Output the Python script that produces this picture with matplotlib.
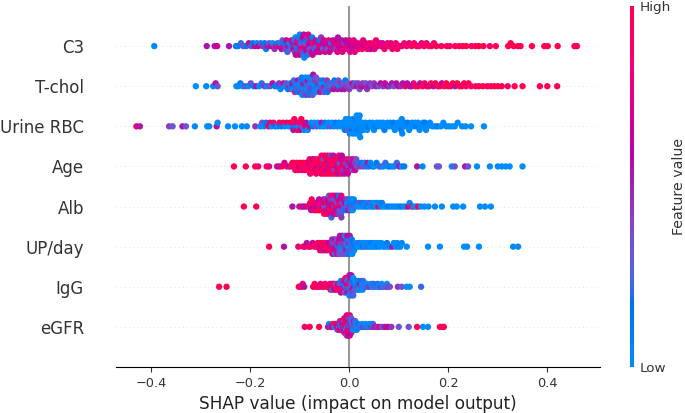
"""SHAP summary (beeswarm) plot of feature impact."""
import matplotlib

matplotlib.use("Agg")
import matplotlib.pyplot as plt
import numpy as np
from matplotlib import cm
from matplotlib.colors import LinearSegmentedColormap

features = ["C3", "T-chol", "Urine RBC", "Age", "Alb", "UP/day", "IgG", "eGFR"]

# SHAP values in thousandths, feature values as codes 0 (low) .. 9 (high)
c3_shap = [
    -394, -288, -272, -267, -243, -229, -225, -219, -214, -208, -203,
    -198, -195, -191, -187, -184, -179, -175, -171,
    -168, -165, -162, -158, -155, -151, -148, -145, -142,
    -139, -137, -135, -133, -131, -129, -127, -125, -123, -121, -119, -117, -115, -114, -112, -111, -110,
    -109, -108, -107, -106, -105, -104, -103, -102, -101, -100, -99, -98, -97, -96,
    -95, -94, -93, -92, -91, -90, -89, -88, -87, -86, -85, -84, -83, -82,
    -81, -80, -78, -77, -75, -74, -72, -71, -69, -68, -66, -65, -63, -62, -60, -59, -57, -56, -54, -53, -51,
    -49, -47, -45, -44, -42, -40, -38, -37, -35, -33, -31, -30, -28, -26, -24, -23, -21,
    -19, -17, -15, -14, -12, -10, -8, -7, -5, -3, -1, 0, 2, 4, 6, 7, 9,
    11, 13, 16, 18, 21, 23, 26, 28, 31, 33, 36, 38, 41, 43, 46, 48,
    51, 54, 57, 61, 64, 67, 71, 74, 77, 81, 84, 87, 91, 94, 97,
    101, 106, 111, 116, 121, 126, 131, 136, 141, 146, 151, 156, 161, 166, 171, 176,
    186, 197, 203, 214, 222, 229, 236, 247, 255, 262, 271, 284, 296,
    321, 326, 332, 341, 346, 369, 394, 401, 421, 455, 460,
]
c3_value = [
    0, 5, 5, 6, 5, 1, 1, 2, 3, 1, 5,
    3, 1, 5, 0, 6, 2, 4, 1,
    1, 5, 3, 6, 0, 4, 7, 2, 5,
    0, 5, 3, 7, 1, 4, 6, 2, 5, 0, 3, 7, 1, 5, 6, 2, 4,
    0, 6, 3, 5, 1, 7, 4, 2, 6, 0, 5, 3, 7, 1,
    4, 6, 2, 5, 0, 7, 3, 5, 1, 6, 4, 2, 7, 5,
    6, 3, 7, 5, 1, 6, 4, 7, 2, 5, 6, 3, 7, 5, 1, 6, 4, 7, 5, 3, 6,
    7, 5, 6, 3, 7, 5, 6, 2, 7, 6, 5, 7, 4, 6, 7, 5, 6,
    7, 6, 5, 7, 6, 4, 7, 6, 7, 5, 7, 6, 7, 6, 7, 5, 7,
    7, 6, 7, 7, 6, 7, 8, 7, 6, 7, 7, 8, 7, 6, 7, 8,
    7, 8, 7, 7, 8, 6, 7, 8, 7, 8, 7, 8, 7, 8, 8,
    8, 7, 8, 8, 7, 8, 8, 9, 8, 7, 8, 8, 9, 8, 8, 9,
    8, 9, 8, 9, 8, 9, 9, 8, 9, 9, 9, 8, 9,
    9, 9, 9, 9, 9, 9, 9, 9, 9, 9, 9,
]

tchol_shap = [
    -310, -289, -275, -270, -266,
    -228, -224, -220, -215, -210,
    -204, -199, -193, -188, -182, -177, -171, -166, -160, -155, -150,
    -145, -142, -139, -136, -133, -130, -127, -124, -121,
    -119, -118, -116, -115, -113, -112, -110, -109, -107, -106, -104, -103, -101, -100,
    -99, -98, -97, -96, -95, -94, -93, -92, -91, -90, -89, -88, -87, -86, -85, -84, -83,
    -82, -81, -80, -79, -78, -77, -76, -75, -74, -73, -72, -71, -70, -69, -68, -67,
    -65, -63, -62, -60, -59, -57, -56, -54, -53, -51, -50, -48, -47, -45, -44, -42,
    -40, -38, -36, -34, -32, -30, -28, -26, -24, -22, -20, -18, -16, -14, -12, -10, -8, -6, -3,
    0, 3, 6, 9, 12, 15, 18, 21, 24, 27, 30, 33, 36, 39, 42, 46,
    50, 54, 59, 63, 68, 72, 77, 81, 86, 90, 95, 99, 104, 108, 113, 117, 122, 126, 130,
    134, 139, 143, 148, 152, 157, 161, 165, 170, 174, 179, 183, 187,
    192, 196, 200, 205, 209, 214, 218, 223, 227, 232, 236, 241, 246,
    255, 262, 270, 279, 286, 293, 300, 308, 320, 334, 350,
    385, 400, 420,
]
tchol_value = [
    0, 0, 0, 5, 3,
    0, 0, 1, 0, 3,
    0, 3, 1, 5, 0, 2, 4, 0, 3, 5, 1,
    1, 4, 0, 2, 5, 0, 3, 1, 4,
    0, 3, 1, 5, 0, 2, 4, 1, 0, 3, 5, 1, 2, 0,
    0, 2, 4, 1, 0, 3, 5, 0, 1, 2, 0, 4, 1, 3, 0, 5, 2,
    0, 1, 3, 0, 4, 2, 1, 0, 3, 5, 1, 0, 2, 4, 0, 3,
    1, 4, 0, 3, 5, 2, 0, 4, 1, 3, 5, 0, 2, 4, 1, 3,
    2, 4, 0, 3, 5, 1, 4, 2, 5, 3, 0, 4, 5, 2, 3, 5, 1, 4, 3,
    4, 3, 5, 4, 2, 5, 4, 3, 5, 4, 5, 3, 4, 5, 4, 3,
    4, 5, 3, 5, 4, 6, 5, 4, 5, 3, 5, 6, 4, 5, 7, 5, 6, 5, 7,
    8, 9, 5, 8, 9, 6, 9, 8, 5, 9, 8, 9, 6,
    8, 9, 9, 8, 9, 5, 9, 8, 9, 9, 8, 9, 8,
    9, 8, 9, 9, 8, 9, 9, 9, 8, 9, 9,
    9, 9, 9,
]

urbc_shap = [
    -430, -423, -364, -357, -337, -330, -312, -287, -283, -268, -266, -245, -231, -217, -207, -190,
    -180, -176, -172, -168,
    -163, -160, -157, -153, -149,
    -144, -141, -137, -134, -130, -126, -122,
    -119, -117, -115, -113, -111, -109, -107, -105, -103, -101, -99, -97, -95, -93, -91, -89, -87,
    -84, -80, -77, -73, -70, -66, -63, -59, -56, -52, -49, -45, -42, -38, -35, -31, -28, -24, -21, -17, -14,
    -12, -10, -9, -7, -5, -4, -2, -1,
    1, 2, 4, 5, 7, 8, 9,
    11, 12, 13, 14, 15, 16, 17, 18, 19, 20, 21, 22,
    24, 26, 28, 30,
    33, 36, 39, 41, 44, 47, 50, 53, 56, 59, 62, 65, 68, 71, 74, 77, 80, 83, 86, 89, 92, 95, 98,
    101, 103, 105, 106, 107, 109, 112, 115, 118, 121, 124, 127, 130, 133, 136, 139, 142, 145, 149, 151, 153, 155, 158,
    163, 168, 174, 179, 185, 190, 196, 201, 207, 213,
    219, 228, 235, 246, 272,
]
urbc_value = [
    7, 5, 4, 3, 5, 3, 0, 0, 0, 5, 0, 0, 0, 0, 0, 4,
    0, 3, 0, 1,
    9, 7, 0, 8, 1,
    0, 8, 1, 9, 0, 7, 0,
    9, 0, 8, 5, 9, 1, 7, 9, 0, 8, 6, 9, 3, 8, 0, 7, 5,
    0, 5, 0, 1, 0, 3, 0, 0, 5, 0, 1, 0, 0, 3, 0, 0, 1, 0, 0, 0, 0,
    0, 0, 1, 0, 0, 0, 3, 0,
    0, 0, 0, 1, 0, 0, 0,
    0, 0, 1, 0, 0, 0, 0, 1, 0, 0, 0, 0,
    0, 0, 0, 0,
    0, 0, 1, 0, 0, 0, 0, 1, 0, 0, 0, 0, 0, 1, 0, 0, 0, 0, 0, 1, 0, 0, 0,
    0, 0, 1, 0, 0, 0, 0, 0, 1, 0, 0, 0, 0, 0, 1, 0, 0, 0, 0, 0, 1, 0, 0,
    0, 0, 0, 1, 0, 0, 0, 0, 0, 0,
    0, 0, 0, 0, 0,
]

age_shap = [
    -233, -209, -190, -184, -167, -162,
    -146, -141, -136, -131, -126, -121, -117,
    -115, -113, -111, -109, -107, -105, -103, -101, -99, -97, -95, -93, -91, -89, -87, -85, -83, -82, -81,
    -80, -79, -78, -76, -75, -74, -72, -71, -70, -68, -67, -66, -64, -63, -62, -61, -60,
    -59, -58, -57, -56, -55, -54, -53, -52, -51, -50, -49, -48,
    -47, -46, -45, -44, -43, -42, -41, -40, -39, -38, -37, -36,
    -35, -34, -33, -32, -31, -30, -29, -28, -27, -26, -25, -24,
    -23, -22, -21, -20, -19, -18, -17, -16, -15, -14, -13, -12,
    -11, -10, -8, -7, -5, -4, -3, -1, 0, 1, 3, 4, 5, 7, 8, 9, 11, 12, 14,
    16, 19, 22, 25, 28, 31, 34, 37, 40, 43, 47,
    50, 55, 60, 64, 69, 73, 78, 82, 87, 91, 96, 101, 106, 111,
    137, 148, 177, 181, 207, 213, 234, 240, 258, 284, 300, 308, 316, 324, 350,
]
age_value = [
    9, 9, 9, 8, 9, 7,
    7, 5, 8, 6, 9, 5, 8,
    9, 8, 9, 7, 9, 8, 9, 6, 9, 8, 9, 9, 7, 8, 9, 8, 9, 6, 9,
    9, 8, 7, 9, 9, 5, 8, 9, 7, 9, 8, 6, 9, 9, 8, 7, 9,
    9, 8, 7, 9, 5, 9, 8, 3, 9, 7, 8, 9,
    6, 9, 8, 9, 7, 5, 9, 8, 9, 4, 8, 9,
    7, 9, 8, 5, 9, 7, 3, 8, 9, 6, 8, 7,
    9, 5, 8, 7, 2, 9, 6, 8, 5, 7, 9, 4,
    6, 5, 7, 4, 5, 8, 6, 3, 5, 7, 4, 6, 5, 3, 7, 5, 4, 6, 3,
    3, 2, 4, 1, 3, 0, 2, 5, 1, 0, 2,
    0, 1, 0, 3, 0, 2, 0, 1, 0, 0, 2, 5, 0, 1,
    5, 0, 3, 3, 0, 3, 5, 3, 0, 0, 0, 0, 0, 0, 0,
]

alb_shap = [
    -213, -188, -115,
    -101, -96, -92, -87, -83,
    -80, -79, -77, -76, -74, -73, -71, -70, -68, -67, -65, -64, -62, -61, -59, -58, -56, -55, -54,
    -53, -52, -51, -50, -49, -48, -47, -46, -45, -45, -44, -43,
    -42, -41, -40, -40, -39, -38, -37, -36, -36, -35, -34, -33,
    -32, -32, -31, -30, -29, -28, -28, -27, -26, -25, -24, -24,
    -23, -22, -21, -20, -20, -19, -18, -17, -16, -16, -15, -14,
    -13, -12, -10, -9, -8, -6, -5, -4, -2, -1, 0, 1, 3, 4, 5, 6, 7,
    9, 11, 14, 16, 19, 21, 24, 26, 29, 31, 34, 36, 39, 41, 44, 46, 49, 51, 54, 56, 59, 61, 64, 66,
    70, 75, 80, 85, 90, 95, 100, 105, 110, 115, 119, 122, 126, 130, 135, 139, 145, 152, 160,
    173, 187, 210, 217, 230, 264, 274, 286,
]
alb_value = [
    9, 9, 5,
    5, 7, 5, 6, 7,
    7, 9, 5, 8, 6, 9, 7, 5, 8, 9, 6, 7, 9, 5, 8, 7, 9, 6, 8,
    7, 5, 9, 3, 6, 8, 4, 7, 2, 9, 5, 6,
    8, 3, 7, 5, 9, 4, 6, 8, 2, 7, 5, 9,
    3, 6, 7, 4, 8, 5, 2, 7, 6, 9, 3, 5,
    7, 4, 1, 6, 8, 3, 5, 2, 7, 4, 6, 3,
    3, 5, 2, 6, 1, 4, 3, 0, 5, 2, 4, 1, 3, 0, 2, 1, 0,
    0, 2, 1, 0, 3, 0, 1, 0, 2, 0, 0, 1, 0, 3, 0, 0, 1, 0, 0, 0, 9, 0, 0, 1,
    0, 0, 1, 0, 0, 0, 0, 1, 0, 0, 5, 0, 9, 0, 0, 9, 0, 0, 0,
    0, 0, 0, 0, 0, 0, 0, 0,
]

upday_shap = [
    -162, -132, -103,
    -93, -89, -86, -82, -78, -74, -70, -66,
    -64, -62, -61, -59, -57, -56, -54, -52, -51, -49, -47, -46, -44, -42, -41, -39,
    -38, -37, -36, -35, -34, -33, -32, -31, -30, -29, -28, -27, -26,
    -25, -24, -23, -22, -21, -20, -20, -19, -18, -17, -16, -15, -15,
    -14, -13, -12, -11, -10, -10, -9, -8, -7, -6, -5, -5, -4,
    -3, -2, -1, 0, 0, 1, 2, 3, 4, 5, 6, 7, 8,
    10, 12, 15, 17, 20, 22, 25, 27, 30, 32, 35, 37, 40, 42, 45, 47, 50, 52, 55, 57, 60, 62,
    65, 69, 72, 76, 79, 83, 87, 90, 94, 97, 100, 103, 106,
    116, 159, 183, 232, 238, 262, 331, 341,
]
upday_value = [
    9, 5, 7,
    9, 7, 5, 9, 8, 6, 9, 7,
    9, 7, 8, 9, 6, 9, 7, 9, 8, 5, 9, 7, 8, 9, 6, 7,
    7, 5, 8, 4, 6, 5, 3, 7, 5, 2, 6, 4, 5,
    3, 7, 1, 5, 4, 6, 3, 5, 2, 4, 0, 5, 3,
    6, 1, 4, 2, 5, 3, 0, 4, 2, 5, 1, 3, 6,
    0, 4, 2, 3, 1, 5, 0, 2, 3, 1, 0, 2, 1,
    0, 1, 0, 0, 2, 0, 0, 1, 0, 0, 0, 2, 0, 0, 1, 0, 0, 0, 0, 1, 0, 0,
    0, 0, 0, 1, 0, 0, 5, 0, 0, 0, 1, 0, 0,
    0, 0, 0, 0, 0, 0, 0, 0,
]

igg_shap = [
    -263, -248,
    -102, -100, -97, -94, -91,
    -73, -70, -67, -64, -61, -58, -55, -52, -49, -46, -43, -40,
    -39, -38, -36, -35, -34, -32, -31, -30, -28, -27, -26, -24, -23, -21,
    -20, -19, -18, -17, -17, -16, -15, -14, -13, -12, -12, -11, -10, -9, -8, -7, -6, -5,
    -4, -4, -3, -3, -2, -2, -1, -1, 0, 0, 1, 1, 2, 2, 3, 3, 4, 4, 5, 5, 6, 6,
    7, 8, 8, 9, 10, 11, 12,
    13, 14, 15, 16, 17, 18, 19, 20, 21, 22, 23, 24, 25, 26, 27, 28,
    30, 33, 36, 38, 41, 44, 47, 49, 52, 55, 57, 60, 63, 65, 68, 71, 74, 76, 79, 82,
    98, 106, 116, 122, 145,
]
igg_value = [
    9, 9,
    9, 9, 8, 7, 5,
    9, 8, 9, 7, 9, 8, 6, 9, 8, 7, 9, 8,
    7, 9, 5, 8, 0, 7, 9, 6, 8, 3, 7, 9, 5, 8,
    6, 3, 8, 0, 5, 7, 2, 9, 4, 6, 1, 7, 5, 3, 8, 0, 6, 4,
    0, 5, 3, 7, 1, 4, 6, 2, 0, 5, 3, 8, 1, 4, 0, 6, 2, 5, 0, 3, 7, 1,
    4, 0, 2, 5, 1, 3, 0,
    1, 0, 3, 0, 4, 1, 0, 2, 0, 5, 0, 1, 3, 0, 0, 2,
    0, 3, 0, 1, 4, 0, 0, 2, 3, 0, 1, 0, 4, 0, 2, 0, 3, 0, 4, 3,
    4, 3, 0, 0, 2,
]

egfr_shap = [
    -90, -80, -61,
    -43, -41, -39, -37, -35, -33, -31, -29, -27, -25,
    -24, -24, -23, -22, -21, -21, -20, -19, -18, -18, -17, -16, -15, -14, -13,
    -12, -12, -11, -11, -10, -10, -9, -9, -9, -8, -8, -7, -7, -7, -6,
    -6, -5, -5, -5, -4, -4, -3, -3, -3, -2, -2, -1, -1, -1, 0,
    0, 1, 1, 1, 2, 2, 3, 3, 4, 4, 5, 5, 6, 6, 7,
    8, 8, 9, 10, 10, 11, 12, 13, 14, 15,
    16, 18, 20, 22, 24, 26, 28, 30, 32, 34, 36, 38, 40, 42, 44, 45, 47, 48,
    52, 56, 61, 66, 72, 78, 85,
    100, 120, 137, 149, 159, 183, 188, 191,
]
egfr_value = [
    8, 9, 9,
    5, 0, 7, 3, 6, 9, 4, 0, 5, 7,
    8, 3, 6, 9, 0, 5, 7, 4, 9, 2, 6, 8, 0, 5, 7,
    7, 5, 9, 3, 6, 8, 0, 7, 5, 9, 4, 6, 8, 2, 7,
    5, 9, 3, 6, 0, 8, 7, 5, 9, 4, 6, 8, 1, 7, 5,
    9, 3, 6, 8, 0, 7, 5, 4, 6, 3, 5, 2, 4, 0, 3,
    3, 0, 5, 1, 4, 0, 2, 3, 0, 1,
    0, 1, 3, 0, 2, 0, 4, 1, 0, 3, 0, 2, 0, 3, 1, 0, 4, 2,
    5, 4, 7, 3, 5, 6, 4,
    3, 3, 9, 0, 0, 9, 9, 9,
]

shap_lists = [c3_shap, tchol_shap, urbc_shap, age_shap, alb_shap, upday_shap, igg_shap, egfr_shap]
value_lists = [c3_value, tchol_value, urbc_value, age_value, alb_value, upday_value, igg_value, egfr_value]

axis_color = "#333333"


def lch_to_rgb(l, c, h):
    # Lch -> Lab -> XYZ (D65) -> sRGB
    a, b = c * np.cos(h), c * np.sin(h)
    fy = (l + 16) / 116
    fx, fz = fy + a / 500, fy - b / 200

    def finv(t):
        return np.where(t > 6 / 29, t**3, 3 * (6 / 29) ** 2 * (t - 4 / 29))

    xyz = np.array([0.95047 * finv(fx), finv(fy), 1.08883 * finv(fz)])
    m = np.array([[3.2406, -1.5372, -0.4986],
                  [-0.9689, 1.8758, 0.0415],
                  [0.0557, -0.2040, 1.0570]])
    rgb = m @ xyz
    rgb = np.where(rgb > 0.0031308, 1.055 * np.abs(rgb) ** (1 / 2.4) - 0.055, 12.92 * rgb)
    return np.clip(rgb, 0, 1)


def red_blue_cmap(nsteps=100):
    blue_lch = [54.0, 70.0, 4.6588]
    red_lch = [54.0, 90.0, 0.35470565 + 2 * np.pi]
    l_mid = 40.0
    l_vals = list(np.linspace(blue_lch[0], l_mid, nsteps // 2)) + list(
        np.linspace(l_mid, red_lch[0], nsteps // 2))
    c_vals = np.linspace(blue_lch[1], red_lch[1], nsteps)
    h_vals = np.linspace(blue_lch[2], red_lch[2], nsteps)
    colors = [lch_to_rgb(l, c, h) for l, c, h in zip(l_vals, c_vals, h_vals)]
    return LinearSegmentedColormap.from_list("red_blue", colors)


def swarm_offsets(shaps, nbins=100, row_height=0.4):
    quant = np.round(nbins * (shaps - shaps.min()) / (shaps.max() - shaps.min() + 1e-8))
    order = np.argsort(quant, kind="stable")
    ys = np.zeros(len(shaps))
    layer, last_bin = 0, -1
    for ind in order:
        if quant[ind] != last_bin:
            layer = 0
        ys[ind] = np.ceil(layer / 2) * ((layer % 2) * 2 - 1)
        layer += 1
        last_bin = quant[ind]
    return ys * 0.9 * (row_height / np.max(ys + 1))


cmap = red_blue_cmap()

fig = plt.figure(figsize=(6.85, 4.13), dpi=100)
ax = fig.add_axes([116 / 685, 46 / 413, 484 / 685, 361 / 413])

n = len(features)
for i, (name, s, v) in enumerate(zip(features, shap_lists, value_lists)):
    assert len(s) == len(v), name
    pos = n - 1 - i
    shaps = np.array(s) / 1000.0
    vals = np.array(v) / 9.0
    ax.axhline(y=pos, color="#cccccc", lw=0.5, dashes=(1, 5), zorder=-1)
    ax.scatter(shaps, pos + swarm_offsets(shaps), c=vals, cmap=cmap, vmin=0, vmax=1,
               s=21, linewidth=0, zorder=3)

ax.axvline(x=0, color="#999999", zorder=-1)

ax.set_xlim(-0.4713, 0.5065)
ax.set_ylim(-1, n)
ax.set_xticks([-0.4, -0.2, 0.0, 0.2, 0.4])
ax.set_yticks(range(n))
ax.set_yticklabels(features[::-1], fontsize=12)
ax.tick_params("y", length=0, pad=23, labelcolor=axis_color)
ax.tick_params("x", labelsize=9.3, color=axis_color, labelcolor=axis_color)
for side in ["top", "right", "left"]:
    ax.spines[side].set_visible(False)
ax.set_xlabel("SHAP value (impact on model output)", fontsize=12.2, color="#222222")

cax = fig.add_axes([630 / 685, 46 / 413, 4.3 / 685, 361 / 413])
m = cm.ScalarMappable(cmap=cmap)
m.set_array([0, 1])
cb = fig.colorbar(m, cax=cax, ticks=[0, 1])
cb.set_ticklabels(["Low", "High"])
cb.ax.tick_params(labelsize=9.7, length=0, labelcolor=axis_color)
cb.set_label("Feature value", size=10.2, labelpad=1, color=axis_color)
cb.outline.set_visible(False)

fig.savefig("out.png", dpi=100)
plt.close(fig)
